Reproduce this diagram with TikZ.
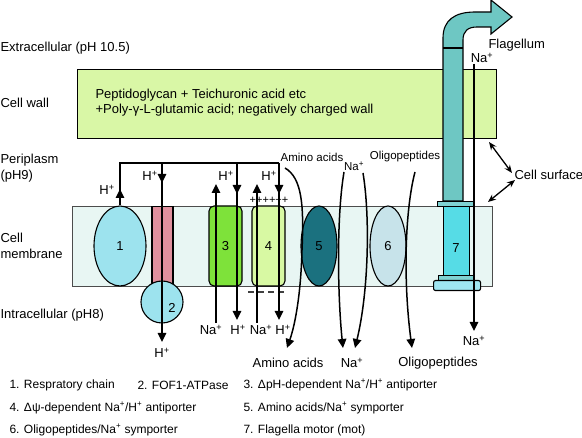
\documentclass[tikz,border=0pt]{standalone}
\usepackage{fontspec}
\setmainfont{Liberation Sans}
\usetikzlibrary{arrows.meta,shapes.geometric}

\definecolor{wallc}{HTML}{D9F7A6}
\definecolor{memc}{HTML}{E8F6F3}
\definecolor{respc}{HTML}{9DE3EE}
\definecolor{atpc}{HTML}{E0909E}
\definecolor{nhaA}{HTML}{7EE23A}
\definecolor{nhaB}{HTML}{D8F9A3}
\definecolor{aac}{HTML}{1B717F}
\definecolor{oligc}{HTML}{C7E3EA}
\definecolor{motc}{HTML}{56DCE6}
\definecolor{flagc}{HTML}{6EC7C3}
\definecolor{capc}{HTML}{7FD3D3}
\definecolor{basec}{HTML}{9FE6F2}

\newcommand{\Hion}{H\textsuperscript{+}}
\newcommand{\Naion}{Na\textsuperscript{+}}

\begin{document}
\begin{tikzpicture}[x=1pt,y=-1pt,line width=1.1pt]

  \tikzset{
    lbl/.style   = {font=\fontsize{13}{16.5}\selectfont, inner sep=0pt},
    tiny/.style  = {font=\fontsize{11.5}{13}\selectfont, inner sep=0pt},
    leg/.style   = {font=\fontsize{12}{14}\selectfont, inner sep=0pt, anchor=west},
    prot/.style  = {draw, line width=1.1pt, inner sep=0pt,
                    font=\fontsize{13}{15}\selectfont},
    wire/.style  = {line width=1.5pt},
    flow/.style  = {line width=1.5pt, -{Triangle[width=8.5pt,length=9pt]}},
    surf/.style  = {line width=1.3pt,
                    {Stealth[length=8pt,width=6.5pt]}-{Stealth[length=8pt,width=6.5pt]}},
  }

  \useasboundingbox (0,0) rectangle (582,438);

  % ---- compartments, left margin ------------------------------------------
  \node[lbl,anchor=west] (extra) at (0,48) {Extracellular (pH 10.5)};
  \node[lbl,anchor=west] (wallname) at (0,103) {Cell wall};
  \node[lbl,anchor=west,align=left] (peri) at (0,168) {Periplasm\\(pH9)};
  \node[lbl,anchor=west,align=left] (memname) at (0,246) {Cell\\membrane};
  \node[lbl,anchor=west] (intra) at (0,315) {Intracellular (pH8)};

  % ---- cell wall and membrane ---------------------------------------------
  \node[draw,fill=wallc,minimum width=419,minimum height=69,
        anchor=north west] (wall) at (77,69) {};
  \node[lbl,anchor=west,align=left,font=\fontsize{13}{15}\selectfont]
    (walltxt) at (95,102.5)
    {Peptidoglycan + Teichuronic acid etc\\+Poly-γ-L-glutamic acid; negatively charged wall};

  \node[draw=black!70,fill=memc,minimum width=420,minimum height=80,
        anchor=north west] (mem) at (72,206) {};

  % ---- flagellum ----------------------------------------------------------
  \draw[fill=flagc] (443,201) -- (443,38) .. controls (443,20) and (455,12) .. (475,12)
    -- (491,12) -- (491,0) -- (512,17) -- (491,34) -- (491,27) -- (477,27)
    .. controls (468,27) and (463,31) .. (463,40) -- (463,201) -- cycle;
  \draw (443,48) -- (463,48);
  \node[lbl,anchor=west] (flagname) at (488,45) {Flagellum};

  % ---- membrane proteins --------------------------------------------------
  \node[prot,ellipse,fill=respc,minimum width=52,minimum height=80] (p1) at (120,246) {1};
  \node[prot,fill=atpc,minimum width=21,minimum height=78,anchor=north] (p2) at (162.5,206) {};
  \node[prot,circle,fill=respc,minimum size=42] (p2b) at (162,302) {};
  \node[lbl] (p2lbl) at (172,308) {2};
  \node[prot,rounded corners=5pt,fill=nhaA,minimum width=33,minimum height=80] (p3) at (225.5,246) {3};
  \node[prot,rounded corners=5pt,fill=nhaB,minimum width=33,minimum height=80] (p4) at (268.5,246) {4};
  \node[prot,ellipse,fill=aac,minimum width=36,minimum height=80] (p5) at (319,246) {5};
  \node[prot,ellipse,fill=oligc,minimum width=36,minimum height=80] (p6) at (388,246) {6};

  \node[prot,fill=capc,minimum width=37,minimum height=5,anchor=north west] (cap) at (437,201) {};
  \node[prot,fill=motc,minimum width=26,minimum height=69,anchor=north west] (p7) at (443,206) {};
  \node[prot,fill=capc,minimum width=36,minimum height=5,anchor=north west] (bar) at (438,275) {};
  \node[prot,fill=basec,rounded corners=2pt,minimum width=47,minimum height=10,
        anchor=north west] (base) at (433,280) {};
  \node[lbl] (p7lbl) at (456,248) {7};

  % charges on the antiporter 4
  \node[font=\fontsize{11}{11}\selectfont,inner sep=0pt] (plus) at (269,200) {++++++};
  \draw[black!75,line width=1.2pt,dash pattern=on 6pt off 4pt] (248,292) -- (285,292);

  % ---- proton circuit -----------------------------------------------------
  \coordinate (loopL) at (120,163);
  \coordinate (loopR) at (279,163);
  \draw[wire] (p1.north) -- (loopL) -- (loopR);
  \draw[flow] (p1.north) -- (120,189);
  \node[lbl] (hresp) at (107,190) {\Hion};

  \node[lbl] (hatpup) at (150,176) {\Hion};
  \node[lbl] (hatp) at (162,353) {\Hion};
  \draw[flow] (162,163) -- (162,183);
  \draw[flow] (162,163) -- (162,342);

  \node[lbl] (hnha3) at (226,176) {\Hion};
  \node[lbl] (hnha4) at (269,176) {\Hion};
  \foreach \x in {237,279} {
    \draw[flow] (\x,163) -- (\x,194);
    \draw[flow] (\x,163) -- (\x,320);
  }
  \foreach \x in {216,257}
    \draw[flow] (\x,323) -- (\x,184);

  \node[lbl] (na3) at (211,330) {\Naion};
  \node[lbl] (h3) at (238,330) {\Hion};
  \node[lbl] (na4) at (261,330) {\Naion};
  \node[lbl] (h4) at (283,330) {\Hion};

  % ---- symporters ---------------------------------------------------------
  \node[tiny] (aaout) at (312,157) {Amino acids};
  \node[tiny] (naout) at (354,166) {\Naion};
  \node[tiny] (olout) at (405,157) {Oligopeptides};
  \node[lbl] (aain) at (288,363) {Amino acids};
  \node[lbl] (nain) at (352,363) {\Naion};
  \node[lbl] (olin) at (438,363) {Oligopeptides};

  \draw[flow] (285,168) .. controls (302,178) and (304,205) .. (302,250)
              .. controls (301,290) and (296,322) .. (287,348);
  \draw[flow] (344,172) .. controls (336,220) and (338,300) .. (343,348);
  \draw[flow] (363,173) .. controls (370,215) and (369,290) .. (355,348);
  \draw[flow] (415,172) .. controls (405,210) and (403,280) .. (412,348);

  % ---- sodium through the motor -------------------------------------------
  \node[lbl] (naflag) at (482,58) {\Naion};
  \node[lbl] (nabot) at (474,341) {\Naion};
  \draw[flow] (474,64) -- (474,331);

  % ---- cell surface -------------------------------------------------------
  \node[lbl,anchor=west] (surface) at (514,175) {Cell surface};
  \draw[surf] (489,142) -- (512,173);
  \draw[surf] (515,180) -- (488,202);

  % ---- legend -------------------------------------------------------------
  \foreach \x/\y/\t [count=\i] in {%
    9/385/{1. Respratory chain},
    137/385/{2. FOF1-ATPase},
    243/385/{3. ΔpH-dependent \Naion/\Hion{} antiporter},
    9/408/{4. Δψ-dependent \Naion/\Hion{} antiporter},
    243/408/{5. Amino acids/\Naion{} symporter},
    9/430/{6. Oligopeptides/\Naion{} symporter},
    243/430/{7. Flagella motor (mot)}%
  }{
    \node[leg] (leg\i) at (\x,\y) {\t};
  }

\end{tikzpicture}
\end{document}
